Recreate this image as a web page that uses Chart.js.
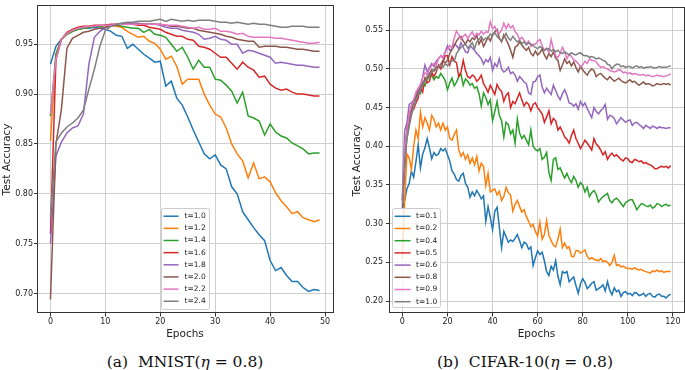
<!DOCTYPE html>
<html>
<head>
<meta charset="utf-8">
<script src="https://cdn.jsdelivr.net/npm/chart.js@4.4.1/dist/chart.umd.min.js"></script>
<style>
  body { margin: 0; background: #fff; }
  #wrap { position: relative; width: 685px; height: 370px; overflow: hidden; }
  canvas { position: absolute; top: 0; }
  .cap { position: absolute; top: 352px; width: 260px; text-align: center;
         font-family: "DejaVu Serif", serif; font-size: 15.5px; line-height: 20px; color: #111; }
</style>
</head>
<body>
<div id="wrap">
  <canvas id="mnistChart" width="340" height="345" style="left:0"></canvas>
  <canvas id="cifarChart" width="345" height="345" style="left:340px"></canvas>
  <div class="cap" style="left:55px">(a)&nbsp; MNIST(<i>η</i> = 0.8)</div>
  <div class="cap" style="left:395px">(b)&nbsp; CIFAR-10(<i>η</i> = 0.8)</div>
</div>
<script>
// matplotlib tab10
const tabColors = ["#1f77b4", "#ff7f0e", "#2ca02c", "#d62728", "#9467bd", "#8c564b", "#e377c2", "#7f7f7f"];

// ---------- (a) MNIST, 50 epochs ----------
const mnistLabels = ["t=1.0", "t=1.2", "t=1.4", "t=1.6", "t=1.8", "t=2.0", "t=2.2", "t=2.4"];
const mnistXTicks = [0, 10, 20, 30, 40, 50];
const mnistYTicks = [0.70, 0.75, 0.80, 0.85, 0.90, 0.95];

const mnistT10 = [
  0.930, 0.948, 0.955, 0.960, 0.963, 0.965, 0.966, 0.966, 0.967, 0.966,
  0.965, 0.963, 0.959, 0.958, 0.946, 0.950, 0.945, 0.940, 0.936, 0.932,
  0.933, 0.908, 0.913, 0.896, 0.889, 0.877, 0.864, 0.852, 0.840, 0.835,
  0.839, 0.829, 0.825, 0.807, 0.800, 0.782, 0.774, 0.766, 0.759, 0.753,
  0.733, 0.723, 0.726, 0.718, 0.712, 0.712, 0.706, 0.702, 0.704, 0.703];
const mnistT12 = [
  0.853, 0.940, 0.955, 0.960, 0.963, 0.965, 0.966, 0.967, 0.968, 0.968,
  0.969, 0.969, 0.968, 0.967, 0.963, 0.960, 0.957, 0.958, 0.953, 0.951,
  0.945, 0.935, 0.938, 0.928, 0.910, 0.915, 0.915, 0.915, 0.900, 0.889,
  0.880, 0.877, 0.866, 0.850, 0.840, 0.833, 0.816, 0.831, 0.815, 0.817,
  0.812, 0.801, 0.793, 0.787, 0.780, 0.782, 0.776, 0.774, 0.772, 0.774];
const mnistT14 = [
  0.878, 0.940, 0.955, 0.960, 0.963, 0.965, 0.966, 0.967, 0.968, 0.968,
  0.969, 0.969, 0.969, 0.968, 0.967, 0.966, 0.966, 0.962, 0.965, 0.960,
  0.959, 0.957, 0.950, 0.943, 0.947, 0.937, 0.925, 0.934, 0.927, 0.927,
  0.915, 0.914, 0.909, 0.903, 0.891, 0.902, 0.878, 0.876, 0.873, 0.859,
  0.870, 0.862, 0.858, 0.856, 0.851, 0.848, 0.845, 0.840, 0.841, 0.841];
const mnistT16 = [
  0.760, 0.935, 0.955, 0.962, 0.965, 0.967, 0.968, 0.968, 0.969, 0.969,
  0.969, 0.970, 0.970, 0.970, 0.970, 0.970, 0.969, 0.969, 0.967, 0.966,
  0.965, 0.962, 0.960, 0.958, 0.958, 0.955, 0.954, 0.948, 0.947, 0.945,
  0.941, 0.937, 0.937, 0.931, 0.925, 0.932, 0.927, 0.924, 0.917, 0.918,
  0.910, 0.906, 0.904, 0.905, 0.902, 0.900, 0.900, 0.899, 0.898, 0.898];
const mnistT18 = [
  0.750, 0.838, 0.852, 0.861, 0.866, 0.868, 0.880, 0.930, 0.957, 0.963,
  0.967, 0.969, 0.970, 0.971, 0.971, 0.971, 0.971, 0.970, 0.970, 0.970,
  0.969, 0.967, 0.966, 0.966, 0.964, 0.963, 0.962, 0.960, 0.955, 0.956,
  0.958, 0.955, 0.954, 0.950, 0.950, 0.941, 0.944, 0.943, 0.941, 0.939,
  0.937, 0.931, 0.932, 0.931, 0.930, 0.929, 0.929, 0.928, 0.927, 0.927];
const mnistT20 = [
  0.694, 0.850, 0.885, 0.946, 0.956, 0.959, 0.962, 0.963, 0.965, 0.966,
  0.967, 0.968, 0.969, 0.970, 0.970, 0.970, 0.970, 0.970, 0.970, 0.970,
  0.970, 0.969, 0.968, 0.968, 0.967, 0.966, 0.966, 0.964, 0.963, 0.962,
  0.961, 0.960, 0.958, 0.957, 0.955, 0.954, 0.953, 0.953, 0.947, 0.948,
  0.948, 0.948, 0.947, 0.947, 0.946, 0.945, 0.945, 0.944, 0.943, 0.943];
const mnistT22 = [
  0.880, 0.935, 0.955, 0.961, 0.964, 0.966, 0.967, 0.968, 0.968, 0.969,
  0.969, 0.969, 0.970, 0.970, 0.970, 0.970, 0.970, 0.970, 0.970, 0.970,
  0.970, 0.969, 0.969, 0.969, 0.968, 0.967, 0.966, 0.967, 0.965, 0.965,
  0.966, 0.963, 0.963, 0.962, 0.960, 0.961, 0.958, 0.957, 0.957, 0.957,
  0.957, 0.956, 0.956, 0.955, 0.954, 0.953, 0.952, 0.951, 0.951, 0.952];
const mnistT24 = [
  0.777, 0.852, 0.861, 0.867, 0.871, 0.876, 0.884, 0.905, 0.925, 0.948,
  0.964, 0.968, 0.970, 0.971, 0.972, 0.972, 0.973, 0.973, 0.973, 0.974,
  0.975, 0.973, 0.975, 0.974, 0.973, 0.974, 0.973, 0.974, 0.974, 0.974,
  0.973, 0.972, 0.972, 0.971, 0.972, 0.971, 0.970, 0.971, 0.970, 0.970,
  0.969, 0.968, 0.967, 0.967, 0.968, 0.968, 0.968, 0.967, 0.967, 0.967];

// ---------- (b) CIFAR-10, 120 epochs ----------
const cifarLabels = ["t=0.1", "t=0.2", "t=0.4", "t=0.5", "t=0.6", "t=0.8", "t=0.9", "t=1.0"];
const cifarXTicks = [0, 20, 40, 60, 80, 100, 120];
const cifarYTicks = [0.20, 0.25, 0.30, 0.35, 0.40, 0.45, 0.50, 0.55];

const cifarT01 = [
  0.318, 0.330, 0.345, 0.352, 0.368, 0.360, 0.380, 0.402, 0.372, 0.390,
  0.398, 0.410, 0.398, 0.384, 0.392, 0.388, 0.390, 0.397, 0.394, 0.397,
  0.389, 0.381, 0.368, 0.364, 0.357, 0.355, 0.362, 0.365, 0.352, 0.347,
  0.334, 0.341, 0.336, 0.343, 0.338, 0.332, 0.336, 0.303, 0.322, 0.308,
  0.292, 0.316, 0.321, 0.296, 0.269, 0.290, 0.283, 0.276, 0.279, 0.277,
  0.281, 0.286, 0.278, 0.269, 0.276, 0.274, 0.267, 0.270, 0.246, 0.256,
  0.265, 0.260, 0.263, 0.252, 0.238, 0.233, 0.245, 0.240, 0.252, 0.232,
  0.221, 0.238, 0.236, 0.238, 0.225, 0.228, 0.231, 0.220, 0.210, 0.222,
  0.229, 0.224, 0.216, 0.219, 0.223, 0.225, 0.214, 0.216, 0.218, 0.221,
  0.213, 0.225, 0.214, 0.208, 0.217, 0.212, 0.214, 0.206, 0.211, 0.212,
  0.209, 0.210, 0.207, 0.211, 0.210, 0.207, 0.208, 0.210, 0.206, 0.209,
  0.210, 0.206, 0.205, 0.208, 0.209, 0.206, 0.206, 0.204, 0.207, 0.209];
const cifarT02 = [
  0.255, 0.330, 0.390, 0.385, 0.370, 0.400, 0.421, 0.410, 0.444, 0.425,
  0.437, 0.430, 0.421, 0.440, 0.435, 0.425, 0.430, 0.421, 0.430, 0.421,
  0.425, 0.410, 0.408, 0.415, 0.421, 0.395, 0.387, 0.392, 0.383, 0.389,
  0.378, 0.385, 0.376, 0.387, 0.368, 0.378, 0.374, 0.349, 0.365, 0.341,
  0.343, 0.345, 0.337, 0.342, 0.330, 0.335, 0.347, 0.340, 0.337, 0.316,
  0.325, 0.330, 0.322, 0.315, 0.318, 0.309, 0.303, 0.296, 0.299, 0.290,
  0.284, 0.302, 0.280, 0.286, 0.304, 0.285, 0.278, 0.272, 0.270, 0.280,
  0.293, 0.269, 0.275, 0.268, 0.270, 0.258, 0.257, 0.265, 0.265, 0.262,
  0.264, 0.266, 0.258, 0.254, 0.256, 0.254, 0.253, 0.252, 0.255, 0.251,
  0.252, 0.250, 0.246, 0.250, 0.259, 0.246, 0.247, 0.244, 0.245, 0.243,
  0.242, 0.242, 0.241, 0.243, 0.241, 0.240, 0.241, 0.239, 0.238, 0.237,
  0.236, 0.239, 0.238, 0.240, 0.238, 0.239, 0.237, 0.238, 0.238, 0.238];
const cifarT04 = [
  0.330, 0.380, 0.410, 0.430, 0.445, 0.458, 0.460, 0.470, 0.468, 0.481,
  0.478, 0.486, 0.490, 0.492, 0.486, 0.490, 0.488, 0.494, 0.490, 0.485,
  0.473, 0.482, 0.488, 0.478, 0.483, 0.490, 0.493, 0.479, 0.487, 0.484,
  0.479, 0.481, 0.475, 0.477, 0.468, 0.452, 0.469, 0.463, 0.454, 0.460,
  0.433, 0.445, 0.458, 0.440, 0.433, 0.412, 0.431, 0.428, 0.416, 0.421,
  0.404, 0.435, 0.417, 0.410, 0.414, 0.408, 0.402, 0.421, 0.400, 0.396,
  0.394, 0.397, 0.383, 0.386, 0.392, 0.366, 0.356, 0.383, 0.385, 0.370,
  0.372, 0.365, 0.359, 0.365, 0.358, 0.353, 0.361, 0.356, 0.347, 0.353,
  0.350, 0.341, 0.347, 0.335, 0.340, 0.343, 0.338, 0.328, 0.332, 0.335,
  0.337, 0.339, 0.330, 0.327, 0.331, 0.333, 0.330, 0.326, 0.322, 0.327,
  0.329, 0.331, 0.331, 0.325, 0.318, 0.322, 0.326, 0.325, 0.323, 0.322,
  0.324, 0.320, 0.322, 0.326, 0.325, 0.322, 0.324, 0.325, 0.323, 0.324];
const cifarT05 = [
  0.330, 0.390, 0.420, 0.440, 0.452, 0.448, 0.456, 0.462, 0.477, 0.470,
  0.488, 0.482, 0.484, 0.496, 0.490, 0.496, 0.505, 0.500, 0.509, 0.517,
  0.517, 0.505, 0.516, 0.510, 0.508, 0.490, 0.496, 0.511, 0.498, 0.490,
  0.488, 0.492, 0.490, 0.484, 0.487, 0.492, 0.481, 0.476, 0.470, 0.479,
  0.473, 0.467, 0.480, 0.474, 0.471, 0.458, 0.466, 0.469, 0.450, 0.458,
  0.455, 0.462, 0.469, 0.460, 0.452, 0.457, 0.454, 0.446, 0.454, 0.456,
  0.450, 0.446, 0.442, 0.431, 0.438, 0.446, 0.429, 0.436, 0.433, 0.421,
  0.425, 0.419, 0.412, 0.409, 0.404, 0.414, 0.421, 0.410, 0.404, 0.397,
  0.402, 0.408, 0.404, 0.400, 0.395, 0.410, 0.403, 0.400, 0.395, 0.389,
  0.393, 0.383, 0.388, 0.391, 0.387, 0.389, 0.386, 0.383, 0.381, 0.385,
  0.384, 0.380, 0.379, 0.383, 0.382, 0.380, 0.381, 0.378, 0.379, 0.377,
  0.376, 0.374, 0.371, 0.371, 0.373, 0.374, 0.373, 0.374, 0.372, 0.375];
const cifarT06 = [
  0.335, 0.420, 0.430, 0.454, 0.456, 0.460, 0.465, 0.474, 0.471, 0.490,
  0.505, 0.496, 0.502, 0.507, 0.503, 0.510, 0.513, 0.517, 0.514, 0.522,
  0.530, 0.524, 0.526, 0.532, 0.530, 0.526, 0.534, 0.528, 0.522, 0.521,
  0.530, 0.527, 0.524, 0.520, 0.517, 0.513, 0.506, 0.512, 0.509, 0.515,
  0.498, 0.507, 0.503, 0.513, 0.500, 0.496, 0.498, 0.502, 0.494, 0.496,
  0.492, 0.484, 0.490, 0.487, 0.483, 0.481, 0.469, 0.467, 0.483, 0.484,
  0.490, 0.492, 0.477, 0.469, 0.475, 0.471, 0.467, 0.479, 0.472, 0.465,
  0.460, 0.468, 0.473, 0.466, 0.456, 0.455, 0.452, 0.455, 0.448, 0.458,
  0.452, 0.456, 0.449, 0.443, 0.437, 0.450, 0.445, 0.442, 0.446, 0.449,
  0.454, 0.435, 0.440, 0.439, 0.436, 0.429, 0.433, 0.437, 0.434, 0.431,
  0.433, 0.434, 0.427, 0.430, 0.431, 0.428, 0.426, 0.423, 0.427, 0.425,
  0.423, 0.426, 0.425, 0.423, 0.425, 0.424, 0.424, 0.423, 0.424, 0.424];
const cifarT08 = [
  0.320, 0.370, 0.425, 0.430, 0.445, 0.460, 0.462, 0.470, 0.476, 0.480,
  0.487, 0.490, 0.494, 0.499, 0.497, 0.503, 0.502, 0.506, 0.511, 0.508,
  0.511, 0.520, 0.525, 0.530, 0.536, 0.540, 0.542, 0.536, 0.532, 0.538,
  0.535, 0.540, 0.538, 0.544, 0.532, 0.538, 0.529, 0.535, 0.541, 0.536,
  0.544, 0.548, 0.551, 0.540, 0.535, 0.544, 0.538, 0.532, 0.524, 0.515,
  0.528, 0.530, 0.535, 0.531, 0.527, 0.524, 0.528, 0.520, 0.517, 0.523,
  0.518, 0.521, 0.526, 0.518, 0.513, 0.520, 0.516, 0.522, 0.514, 0.511,
  0.498, 0.505, 0.513, 0.507, 0.510, 0.504, 0.509, 0.502, 0.496, 0.503,
  0.499, 0.495, 0.492, 0.497, 0.500, 0.498, 0.490, 0.493, 0.494, 0.491,
  0.488, 0.486, 0.490, 0.487, 0.484, 0.486, 0.488, 0.485, 0.483, 0.482,
  0.484, 0.486, 0.483, 0.484, 0.481, 0.479, 0.481, 0.483, 0.480, 0.481,
  0.480, 0.478, 0.479, 0.481, 0.480, 0.480, 0.481, 0.480, 0.481, 0.479];
const cifarT09 = [
  0.330, 0.400, 0.420, 0.440, 0.452, 0.460, 0.470, 0.475, 0.480, 0.489,
  0.495, 0.492, 0.500, 0.504, 0.507, 0.505, 0.513, 0.517, 0.515, 0.522,
  0.526, 0.530, 0.527, 0.540, 0.549, 0.544, 0.538, 0.542, 0.545, 0.539,
  0.544, 0.548, 0.541, 0.546, 0.544, 0.549, 0.545, 0.548, 0.547, 0.561,
  0.552, 0.555, 0.548, 0.546, 0.550, 0.559, 0.552, 0.558, 0.553, 0.556,
  0.548, 0.545, 0.538, 0.541, 0.537, 0.532, 0.536, 0.529, 0.532, 0.532,
  0.536, 0.538, 0.530, 0.524, 0.527, 0.521, 0.538, 0.526, 0.517, 0.515,
  0.520, 0.528, 0.522, 0.513, 0.519, 0.516, 0.512, 0.510, 0.507, 0.503,
  0.505, 0.510, 0.507, 0.513, 0.511, 0.511, 0.509, 0.505, 0.502, 0.503,
  0.501, 0.500, 0.498, 0.497, 0.496, 0.497, 0.499, 0.498, 0.495, 0.496,
  0.494, 0.495, 0.493, 0.494, 0.493, 0.492, 0.492, 0.493, 0.491, 0.492,
  0.491, 0.490, 0.491, 0.492, 0.491, 0.491, 0.490, 0.491, 0.492, 0.494];
const cifarT10 = [
  0.325, 0.380, 0.410, 0.425, 0.440, 0.450, 0.460, 0.466, 0.475, 0.478,
  0.484, 0.488, 0.491, 0.496, 0.499, 0.498, 0.503, 0.505, 0.502, 0.507,
  0.504, 0.508, 0.511, 0.510, 0.520, 0.524, 0.528, 0.530, 0.532, 0.527,
  0.530, 0.534, 0.526, 0.535, 0.538, 0.542, 0.537, 0.540, 0.540, 0.545,
  0.543, 0.547, 0.542, 0.539, 0.536, 0.541, 0.546, 0.540, 0.537, 0.542,
  0.538, 0.535, 0.537, 0.533, 0.535, 0.531, 0.534, 0.532, 0.530, 0.528,
  0.526, 0.529, 0.527, 0.524, 0.526, 0.526, 0.523, 0.525, 0.522, 0.524,
  0.521, 0.520, 0.522, 0.520, 0.518, 0.521, 0.519, 0.518, 0.520, 0.521,
  0.518, 0.517, 0.517, 0.515, 0.516, 0.515, 0.513, 0.514, 0.513, 0.511,
  0.510, 0.506, 0.505, 0.500, 0.504, 0.506, 0.506, 0.503, 0.504, 0.502,
  0.503, 0.503, 0.501, 0.503, 0.504, 0.502, 0.503, 0.501, 0.502, 0.502,
  0.503, 0.502, 0.501, 0.502, 0.503, 0.502, 0.502, 0.502, 0.503, 0.504];

const tickFont = { family: "DejaVu Sans", size: 8 };
const titleFont = { family: "DejaVu Sans", size: 10.5 };
const textColor = "#222";
const gridColor = "#cfcfcf";

// full axes box (all 4 spines) + matplotlib style legend inside the plot
const boxLegend = {
  id: "boxLegend",
  afterDatasetsDraw(chart, args, opts) {
    const ctx = chart.ctx;
    const a = chart.chartArea;
    ctx.save();
    ctx.strokeStyle = "#333";
    ctx.lineWidth = 1;
    ctx.strokeRect(Math.floor(a.left) + 0.5, Math.floor(a.top) + 0.5,
      Math.round(a.right - a.left), Math.round(a.bottom - a.top));

    // legend frame
    ctx.beginPath();
    ctx.roundRect(opts.x + 0.5, opts.y + 0.5, opts.w, opts.h, 2);
    ctx.fillStyle = "rgba(255,255,255,0.8)";
    ctx.fill();
    ctx.strokeStyle = "#cccccc";
    ctx.stroke();

    ctx.font = "7.5px 'DejaVu Sans'";
    ctx.textBaseline = "middle";
    chart.data.datasets.forEach((ds, i) => {
      const y = opts.rowY0 + i * opts.rowH;
      ctx.beginPath();
      ctx.strokeStyle = ds.borderColor;
      ctx.lineWidth = 1.5;
      ctx.moveTo(opts.lineX0, y);
      ctx.lineTo(opts.lineX1, y);
      ctx.stroke();
      ctx.fillStyle = textColor;
      ctx.fillText(ds.label, opts.textX, y);
    });
    ctx.restore();
  },
};

function buildChart(canvasId, series, labels, xTicks, yTicks, box) {
  const datasets = series.map((vals, i) => ({
    label: labels[i],
    data: vals.map((v, e) => ({ x: e, y: v })),
    borderColor: tabColors[i],
    backgroundColor: tabColors[i],
    borderWidth: 1.5,
    pointRadius: 0,
    tension: 0,
    fill: false,
    order: series.length - i, // later series on top like matplotlib
  }));

  return new Chart(document.getElementById(canvasId), {
    type: "line",
    data: { datasets },
    options: {
      responsive: false,
      animation: false,
      layout: { padding: box.padding },
      plugins: {
        legend: { display: false },
        tooltip: { enabled: false },
        boxLegend: box.legend,
      },
      scales: {
        x: {
          type: "linear",
          min: box.xMin,
          max: box.xMax,
          afterBuildTicks: (s) => { s.ticks = xTicks.map((v) => ({ value: v })); },
          afterFit: (s) => { s.height = box.xHeight; },
          ticks: { font: tickFont, color: textColor, padding: 1, maxRotation: 0, autoSkip: false,
                   callback: (v) => String(v) },
          grid: { color: gridColor, tickColor: "#333", tickLength: 3.5 },
          border: { display: false },
          title: { display: true, text: "Epochs", font: titleFont, color: textColor,
                   padding: { top: 0, bottom: 4.7 } },
        },
        y: {
          min: box.yMin,
          max: box.yMax,
          afterBuildTicks: (s) => { s.ticks = yTicks.map((v) => ({ value: v })); },
          afterFit: (s) => { s.width = box.yWidth; },
          ticks: { font: tickFont, color: textColor, padding: box.yTickPad, autoSkip: false,
                   callback: (v) => v.toFixed(2) },
          grid: { color: gridColor, tickColor: "#333", tickLength: 3 },
          border: { display: false },
          title: { display: true, text: "Test Accuracy", font: titleFont, color: textColor,
                   padding: { top: box.yTitlePad, bottom: 0 } },
        },
      },
    },
    plugins: [boxLegend],
  });
}

buildChart("mnistChart",
  [mnistT10, mnistT12, mnistT14, mnistT16, mnistT18, mnistT20, mnistT22, mnistT24],
  mnistLabels, mnistXTicks, mnistYTicks,
  {
    padding: { top: 1, right: 7, bottom: 0, left: 0 },
    xMin: -2.45, xMax: 51.45, yMin: 0.6804, yMax: 0.9886,
    xHeight: 32, yWidth: 37, yTickPad: 1, yTitlePad: 0.5,
    legend: { x: 161, y: 208, w: 48, h: 101, rowY0: 216.2, rowH: 12.15,
              lineX0: 163.5, lineX1: 178.5, textX: 184.5 },
  });

buildChart("cifarChart",
  [cifarT01, cifarT02, cifarT04, cifarT05, cifarT06, cifarT08, cifarT09, cifarT10],
  cifarLabels, cifarXTicks, cifarYTicks,
  {
    padding: { top: 1, right: 1, bottom: 0, left: 0 },
    xMin: -5.95, xMax: 124.95, yMin: 0.1845, yMax: 0.579,
    xHeight: 32, yWidth: 49, yTickPad: 3, yTitlePad: 10.7,
    legend: { x: 52, y: 208, w: 48, h: 99, rowY0: 216.3, rowH: 12.2,
              lineX0: 54.5, lineX1: 70.5, textX: 76 },
  });
</script>
</body>
</html>
